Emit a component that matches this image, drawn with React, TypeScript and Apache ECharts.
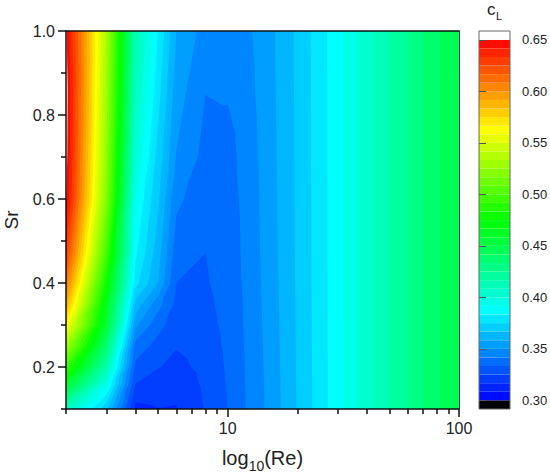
import React, { useEffect, useRef } from "react";
import * as echarts from "echarts";

const reValues = [2, 3, 4, 5, 6, 8, 10, 12, 15, 20, 25, 30, 40, 50, 60, 80, 100];
const srValues = [0.1, 0.115, 0.16, 0.2, 0.25, 0.3, 0.35, 0.4, 0.47, 0.6, 0.7, 0.85, 1.0];

const clRe2 = [0.41, 0.42, 0.46, 0.495, 0.53, 0.565, 0.59, 0.61, 0.63, 0.651, 0.654, 0.655, 0.652];
const clRe3 = [0.368, 0.375, 0.395, 0.415, 0.435, 0.455, 0.465, 0.478, 0.497, 0.518, 0.523, 0.528, 0.532];
const clRe4 = [0.315, 0.3167, 0.325, 0.331, 0.338, 0.352, 0.364, 0.378, 0.385, 0.392, 0.4, 0.408, 0.414];
const clRe5 = [0.3165, 0.3175, 0.321, 0.3255, 0.3305, 0.336, 0.345, 0.3583, 0.362, 0.368, 0.372, 0.378, 0.3833];
const clRe6 = [0.316, 0.317, 0.3195, 0.3225, 0.3255, 0.329, 0.3315, 0.3333, 0.337, 0.3435, 0.3495, 0.354, 0.3583];
const clRe8 = [0.3255, 0.3258, 0.3265, 0.3275, 0.329, 0.3305, 0.3315, 0.3325, 0.3333, 0.3365, 0.339, 0.3417, 0.3465];
const clRe10 = [0.3335, 0.3336, 0.334, 0.3345, 0.335, 0.3355, 0.336, 0.3365, 0.337, 0.338, 0.3385, 0.3423, 0.3445];
const clRe12 = [0.3417, 0.3417, 0.342, 0.3422, 0.3425, 0.3428, 0.343, 0.3433, 0.3437, 0.344, 0.345, 0.3465, 0.348];
const clRe15 = [0.3518, 0.3518, 0.352, 0.3522, 0.3525, 0.3528, 0.353, 0.3533, 0.3537, 0.354, 0.3545, 0.355, 0.3555];
const clRe20 = [0.3672, 0.3672, 0.3673, 0.3674, 0.3675, 0.3676, 0.3677, 0.3678, 0.3679, 0.368, 0.3681, 0.3682, 0.3684];
const clRe25 = [0.379, 0.379, 0.379, 0.379, 0.3791, 0.3791, 0.3792, 0.3792, 0.3793, 0.3793, 0.3794, 0.3794, 0.3795];
const clRe30 = [0.389, 0.389, 0.389, 0.389, 0.389, 0.389, 0.389, 0.389, 0.389, 0.389, 0.389, 0.389, 0.389];
const clRe40 = [0.405, 0.405, 0.405, 0.405, 0.405, 0.405, 0.405, 0.405, 0.405, 0.405, 0.405, 0.405, 0.405];
const clRe50 = [0.4165, 0.4165, 0.4165, 0.4165, 0.4165, 0.4165, 0.4165, 0.4165, 0.4165, 0.4165, 0.4165, 0.4165, 0.4165];
const clRe60 = [0.4257, 0.4257, 0.4257, 0.4257, 0.4257, 0.4257, 0.4257, 0.4257, 0.4257, 0.4257, 0.4257, 0.4257, 0.4257];
const clRe80 = [0.44, 0.44, 0.44, 0.44, 0.44, 0.44, 0.44, 0.44, 0.44, 0.44, 0.44, 0.44, 0.44];
const clRe100 = [0.4495, 0.4495, 0.4495, 0.4495, 0.4495, 0.4495, 0.4495, 0.4495, 0.4495, 0.4495, 0.4495, 0.4495, 0.4495];
const clColumns = [clRe2, clRe3, clRe4, clRe5, clRe6, clRe8, clRe10, clRe12, clRe15, clRe20, clRe25, clRe30, clRe40, clRe50, clRe60, clRe80, clRe100];

const xMajorTicks = [10, 100];
const xMinorTicks = [2, 3, 4, 5, 6, 7, 8, 9, 20, 30, 40, 50, 60, 70, 80, 90];
const yMajorTicks = [0.2, 0.4, 0.6, 0.8, 1.0];
const yMinorTicks = [0.1, 0.3, 0.5, 0.7, 0.9];
const barTicks = [0.3, 0.35, 0.4, 0.45, 0.5, 0.55, 0.6, 0.65];

const CL_MIN = 0.3;
const CL_MAX = 0.65;
const BAND_COUNT = 42;
const BAND_STEP = (CL_MAX - CL_MIN) / BAND_COUNT;
const BAR_MIN = 0.2916;
const BAR_MAX = 0.6586;
const FONT = "Liberation Sans, Arial, sans-serif";

function rainbow(value: number): string {
  const t = Math.max(0, Math.min(1, (value - CL_MIN) / (CL_MAX - CL_MIN))) * 4;
  let r = 0, g = 0, b = 0;
  if (t < 1) { g = t; b = 1; }
  else if (t < 2) { g = 1; b = 2 - t; }
  else if (t < 3) { r = t - 2; g = 1; }
  else { r = 1; g = 4 - t; }
  return `rgb(${Math.round(r * 255)},${Math.round(g * 255)},${Math.round(b * 255)})`;
}

type Band = { low: number; high: number; color: string };
const bands: Band[] = [{ low: -10, high: CL_MIN, color: "#000000" }];
for (let k = 0; k < BAND_COUNT; k++) {
  const low = CL_MIN + k * BAND_STEP;
  bands.push({ low, high: low + BAND_STEP, color: rainbow(low + BAND_STEP / 2) });
}
bands.push({ low: CL_MAX, high: 10, color: "#ffffff" });

type V = [number, number, number];
function clipAt(poly: V[], level: number, keepAbove: boolean): V[] {
  const out: V[] = [];
  for (let i = 0; i < poly.length; i++) {
    const a = poly[i];
    const b = poly[(i + 1) % poly.length];
    const ina = keepAbove ? a[2] >= level : a[2] <= level;
    const inb = keepAbove ? b[2] >= level : b[2] <= level;
    if (ina) out.push(a);
    if (ina !== inb) {
      const f = (level - a[2]) / (b[2] - a[2]);
      out.push([a[0] + (b[0] - a[0]) * f, a[1] + (b[1] - a[1]) * f, level]);
    }
  }
  return out;
}

// For every band, the list of polygons where the field lies in the band (and one band above,
// so that the next band, painted over it, leaves no seam).
const bandPolys: [number, number][][][] = bands.map(() => []);
function vert(i: number, j: number): V {
  return [Math.log10(reValues[i]), srValues[j], clColumns[i][j]];
}
function addTriangle(tri: V[]) {
  bands.forEach((band, b) => {
    let p = clipAt(tri, band.low, true);
    if (p.length) p = clipAt(p, band.high + BAND_STEP, false);
    if (p.length >= 3) {
      bandPolys[b].push(p.map((v) => [Math.pow(10, v[0]), v[1]] as [number, number]));
    }
  });
}
for (let i = 0; i < reValues.length - 1; i++) {
  for (let j = 0; j < srValues.length - 1; j++) {
    addTriangle([vert(i, j), vert(i + 1, j), vert(i + 1, j + 1)]);
    addTriangle([vert(i, j), vert(i + 1, j + 1), vert(i, j + 1)]);
  }
}
const usedBands = bands.map((_, b) => b).filter((b) => bandPolys[b].length > 0);

const tickStyle = { color: "#111", width: 1.5 };

export default function App() {
  const ref = useRef<HTMLDivElement>(null);
  useEffect(() => {
    document.body.style.margin = "0";
    const chart = echarts.init(ref.current!, null, { renderer: "svg" });
    chart.setOption({
      animation: false,
      backgroundColor: "#ffffff",
      textStyle: { fontFamily: FONT },
      grid: [
        { left: 66, top: 31, width: 393, height: 378, outerBoundsMode: "none" },
        { left: 479, top: 31, width: 31, height: 378, outerBoundsMode: "none" },
      ],
      xAxis: [
        {
          type: "log", logBase: 10, min: 2, max: 100, position: "bottom", gridIndex: 0, z: 5,
          axisLine: { show: true, lineStyle: tickStyle },
          axisTick: { show: true, length: 8, lineStyle: tickStyle, customValues: xMajorTicks },
          axisLabel: { show: true, customValues: xMajorTicks, fontSize: 16, color: "#222", margin: 11, fontFamily: FONT, showMinLabel: true, showMaxLabel: true },
          splitLine: { show: false }, minorTick: { show: false },
          name: "{a|log}{s|10}{a|(Re)}", nameLocation: "middle", nameGap: 34,
          nameTextStyle: {
            rich: {
              a: { fontSize: 20, color: "#222", fontFamily: FONT, lineHeight: 30 },
              s: { fontSize: 14, color: "#222", fontFamily: FONT, lineHeight: 30, verticalAlign: "bottom" },
            },
          },
        },
        {
          type: "log", logBase: 10, min: 2, max: 100, position: "bottom", gridIndex: 0, z: 5,
          axisLine: { show: false },
          axisTick: { show: true, length: 5, lineStyle: tickStyle, customValues: xMinorTicks },
          axisLabel: { show: false }, splitLine: { show: false },
        },
        {
          type: "log", logBase: 10, min: 2, max: 100, position: "top", gridIndex: 0, z: 5,
          axisLine: { show: true, lineStyle: { color: "#111", width: 1.5 } },
          axisTick: { show: false }, axisLabel: { show: false }, splitLine: { show: false },
        },
        { type: "value", min: 0, max: 1, gridIndex: 1, show: false, splitLine: { show: false } },
      ],
      yAxis: [
        {
          type: "value", min: 0.1, max: 1, position: "left", gridIndex: 0, z: 5,
          axisLine: { show: true, lineStyle: tickStyle },
          axisTick: { show: true, length: 8, lineStyle: tickStyle, customValues: yMajorTicks },
          axisLabel: {
            show: true, customValues: yMajorTicks, fontSize: 16, color: "#222", margin: 11, fontFamily: FONT,
            formatter: (v: number) => v.toFixed(1), showMinLabel: true, showMaxLabel: true,
          },
          splitLine: { show: false },
          name: "Sr", nameLocation: "middle", nameGap: 45, nameRotate: 90,
          nameTextStyle: { fontSize: 19, color: "#222", fontFamily: FONT },
        },
        {
          type: "value", min: 0.1, max: 1, position: "left", gridIndex: 0, z: 5,
          axisLine: { show: false },
          axisTick: { show: true, length: 5, lineStyle: tickStyle, customValues: yMinorTicks },
          axisLabel: { show: false }, splitLine: { show: false },
        },
        {
          type: "value", min: 0.1, max: 1, position: "right", gridIndex: 0, z: 5,
          axisLine: { show: true, lineStyle: { color: "#444", width: 1 } },
          axisTick: { show: false }, axisLabel: { show: false }, splitLine: { show: false },
        },
        {
          type: "value", min: BAR_MIN, max: BAR_MAX, position: "right", gridIndex: 1, z: 5,
          axisLine: { show: false },
          axisTick: { show: true, length: 7, lineStyle: { color: "#555", width: 1 }, customValues: barTicks },
          axisLabel: {
            show: true, customValues: barTicks, fontSize: 13, color: "#222", margin: 12, fontFamily: FONT,
            formatter: (v: number) => v.toFixed(2),
          },
          splitLine: { show: false },
        },
      ],
      graphic: [
        {
          type: "rect", z: 20, silent: true,
          shape: { x: 479, y: 31, width: 31, height: 378 },
          style: { fill: "none", stroke: "#666", lineWidth: 1 },
        },
        {
          type: "text", z: 20, silent: true, x: 487, y: 1,
          style: { text: "c", fontSize: 17, fontFamily: FONT, fill: "#222" },
        },
        {
          type: "text", z: 20, silent: true, x: 496, y: 10,
          style: { text: "L", fontSize: 11, fontFamily: FONT, fill: "#222" },
        },
      ],
      series: [
        {
          type: "custom", coordinateSystem: "cartesian2d", xAxisIndex: 0, yAxisIndex: 0, clip: true, silent: true,
          encode: { x: 0, y: 1 },
          data: usedBands.map((b) => [bandPolys[b][0][0][0], bandPolys[b][0][0][1], b]),
          renderItem: (_: any, api: any) => {
            const b = api.value(2);
            const d = bandPolys[b]
              .map((poly) => {
                const pts = poly.map((pt) => api.coord(pt));
                return "M" + pts.map((c: number[]) => c[0].toFixed(2) + " " + c[1].toFixed(2)).join("L") + "Z";
              })
              .join("");
            return {
              type: "path",
              shape: { pathData: d },
              style: { fill: bands[b].color },
            };
          },
        },
        {
          type: "custom", coordinateSystem: "cartesian2d", xAxisIndex: 3, yAxisIndex: 3, clip: true, silent: true,
          encode: { x: 0, y: 1 },
          data: bands.map((b, i) => [0, Math.max(b.low, BAR_MIN), i]),
          renderItem: (_: any, api: any) => {
            const band = bands[api.value(2)];
            const lo = Math.max(band.low, BAR_MIN);
            const hi = Math.min(band.high, BAR_MAX);
            const a = api.coord([0, hi]);
            const b = api.coord([1, lo]);
            return {
              type: "rect",
              shape: { x: a[0], y: a[1], width: b[0] - a[0], height: b[1] - a[1] },
              style: { fill: band.color },
            };
          },
        },
      ],
    });
    return () => chart.dispose();
  }, []);
  return <div ref={ref} style={{ position: "fixed", left: 0, top: 0, width: 550, height: 474 }} />;
}
